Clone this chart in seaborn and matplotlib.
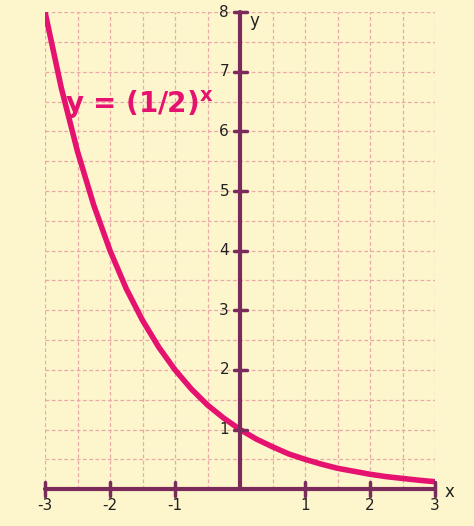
import matplotlib
matplotlib.use("Agg")
import matplotlib.pyplot as plt
import seaborn as sns
import pandas as pd
import numpy as np

x_vals = [-3, -2.75, -2.5, -2.25, -2, -1.75, -1.5, -1.25, -1, -0.75, -0.5, -0.25, 0,
          0.25, 0.5, 0.75, 1, 1.25, 1.5, 1.75, 2, 2.25, 2.5, 2.75, 3]
y_vals = [8, 6.73, 5.66, 4.76, 4, 3.36, 2.83, 2.38, 2, 1.68, 1.41, 1.19, 1,
          0.84, 0.71, 0.59, 0.5, 0.42, 0.35, 0.30, 0.25, 0.21, 0.18, 0.15, 0.125]
x_ticks = [-3, -2, -1, 1, 2, 3]
y_ticks = [1, 2, 3, 4, 5, 6, 7, 8]

bg = "#fdf6cc"
axc = "#7a2b5c"
curve = "#e6126f"
gridc = "#e8a9a8"

sns.set_theme(style="white")
fig = plt.figure(figsize=(4.74, 5.26), dpi=100, facecolor=bg)
ax = fig.add_axes([0.095, 0.070, 0.823, 0.907])
ax.set_facecolor(bg)
df = pd.DataFrame({"x": x_vals, "y": y_vals})
sns.lineplot(data=df, x="x", y="y", ax=ax, color=curve, lw=4, zorder=5)
ax.set_xlim(-3, 3)
ax.set_ylim(0, 8)
for gx in np.arange(-3, 3.01, 0.5):
    ax.axvline(gx, color=gridc, lw=0.9, ls=(0, (3, 2)), zorder=0)
for gy in np.arange(0, 8.01, 0.5):
    ax.axhline(gy, color=gridc, lw=0.9, ls=(0, (3, 2)), zorder=0)
for s in ax.spines.values():
    s.set_visible(False)
ax.axhline(0, color=axc, lw=3, zorder=6, clip_on=False)
ax.axvline(0, color=axc, lw=3, zorder=6, clip_on=False)
ax.set_xticks([]); ax.set_yticks([])
ax.set_xlabel(""); ax.set_ylabel("")
for t in x_ticks:
    ax.plot([t, t], [-0.12, 0.12], color=axc, lw=2.5, zorder=6, clip_on=False)
    ax.text(t, -0.28, str(t), ha="center", va="center", fontsize=11, color="#222222")
for t in y_ticks:
    ax.plot([-0.1, 0.1], [t, t], color=axc, lw=2.5, zorder=6, clip_on=False)
    ax.text(-0.17, t, str(t), ha="right", va="center", fontsize=11, color="#222222")
ax.text(0.15, 7.85, "y", fontsize=12, color="#222222", va="center")
ax.text(3.15, -0.05, "x", fontsize=12, color="#222222", va="center", clip_on=False)
ax.text(-2.7, 6.3, r"y = (1/2)$^{\mathbf{x}}$", fontsize=20, fontweight="bold", color=curve)
fig.savefig("out.png", dpi=100, facecolor=bg)
